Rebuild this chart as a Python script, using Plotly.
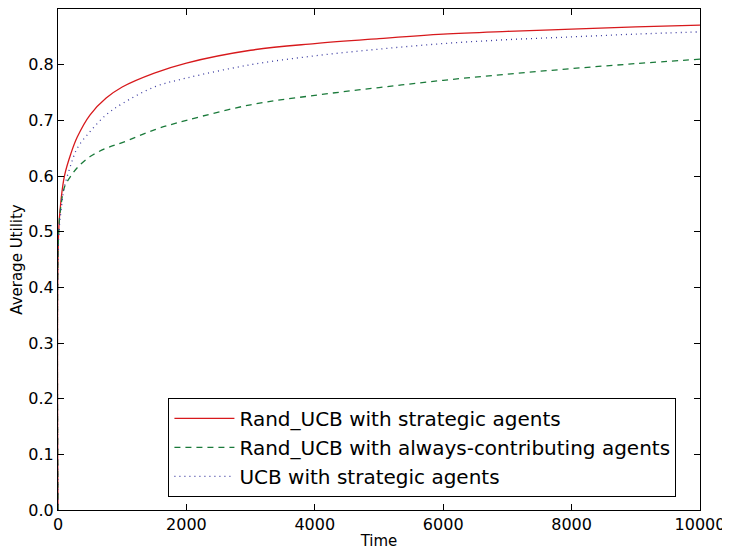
import plotly.graph_objects as go

time = [0, 10, 50, 100, 200, 300, 500, 750, 1000, 1500, 2000, 3000, 4000,
        5000, 6000, 7000, 8000, 9000, 10000]
rand_ucb_strategic = [0.0, 0.50, 0.56, 0.60, 0.64, 0.67, 0.71, 0.74, 0.76, 0.785,
                      0.803, 0.826, 0.838, 0.847, 0.855, 0.860, 0.864, 0.868, 0.871]
rand_ucb_always = [0.0, 0.50, 0.55, 0.58, 0.60, 0.615, 0.635, 0.65, 0.66, 0.683,
                   0.70, 0.728, 0.745, 0.759, 0.772, 0.783, 0.793, 0.802, 0.81]
ucb_strategic = [0.0, 0.49, 0.54, 0.58, 0.62, 0.65, 0.68, 0.71, 0.73, 0.76,
                 0.776, 0.800, 0.816, 0.828, 0.838, 0.845, 0.85, 0.855, 0.859]

fig = go.Figure()
fig.add_trace(go.Scatter(x=time, y=rand_ucb_strategic, mode='lines', line_shape='spline',
                         name='Rand_UCB with strategic agents',
                         line=dict(color='#d7191c', width=1.3)))
fig.add_trace(go.Scatter(x=time, y=rand_ucb_always, mode='lines', line_shape='spline',
                         name='Rand_UCB with always-contributing agents',
                         line=dict(color='#1a7a3a', width=1.3, dash='6px,5px')))
fig.add_trace(go.Scatter(x=time, y=ucb_strategic, mode='lines', line_shape='spline',
                         name='UCB with strategic agents',
                         line=dict(color='#3a3aa0', width=1.3, dash='1px,4px')))

axis = dict(showline=True, linecolor='black', linewidth=1, mirror='ticks',
            ticks='inside', ticklen=6, tickcolor='black', showgrid=False,
            zeroline=False, tickfont=dict(size=16, color='black'), automargin=False)
fig.update_xaxes(range=[0, 10000], dtick=2000, tickformat='d',
                 title=dict(text='Time', standoff=2, font=dict(size=15)), **axis)
fig.update_yaxes(range=[0, 0.9001], dtick=0.1, tickformat='.1f',
                 title=dict(text='Average Utility', standoff=4, font=dict(size=15)), **axis)
fig.update_layout(
    width=730, height=550, template='plotly_white',
    font=dict(family='DejaVu Sans', color='black'),
    margin=dict(l=50, r=38, t=1, b=48),
    plot_bgcolor='white', paper_bgcolor='white',
    legend=dict(x=0.172, y=0.224, xanchor='left', yanchor='top',
                bordercolor='black', borderwidth=1, bgcolor='rgba(255,255,255,0.9)',
                font=dict(size=20), itemwidth=60, tracegroupgap=0))
fig.write_html("out.html")
